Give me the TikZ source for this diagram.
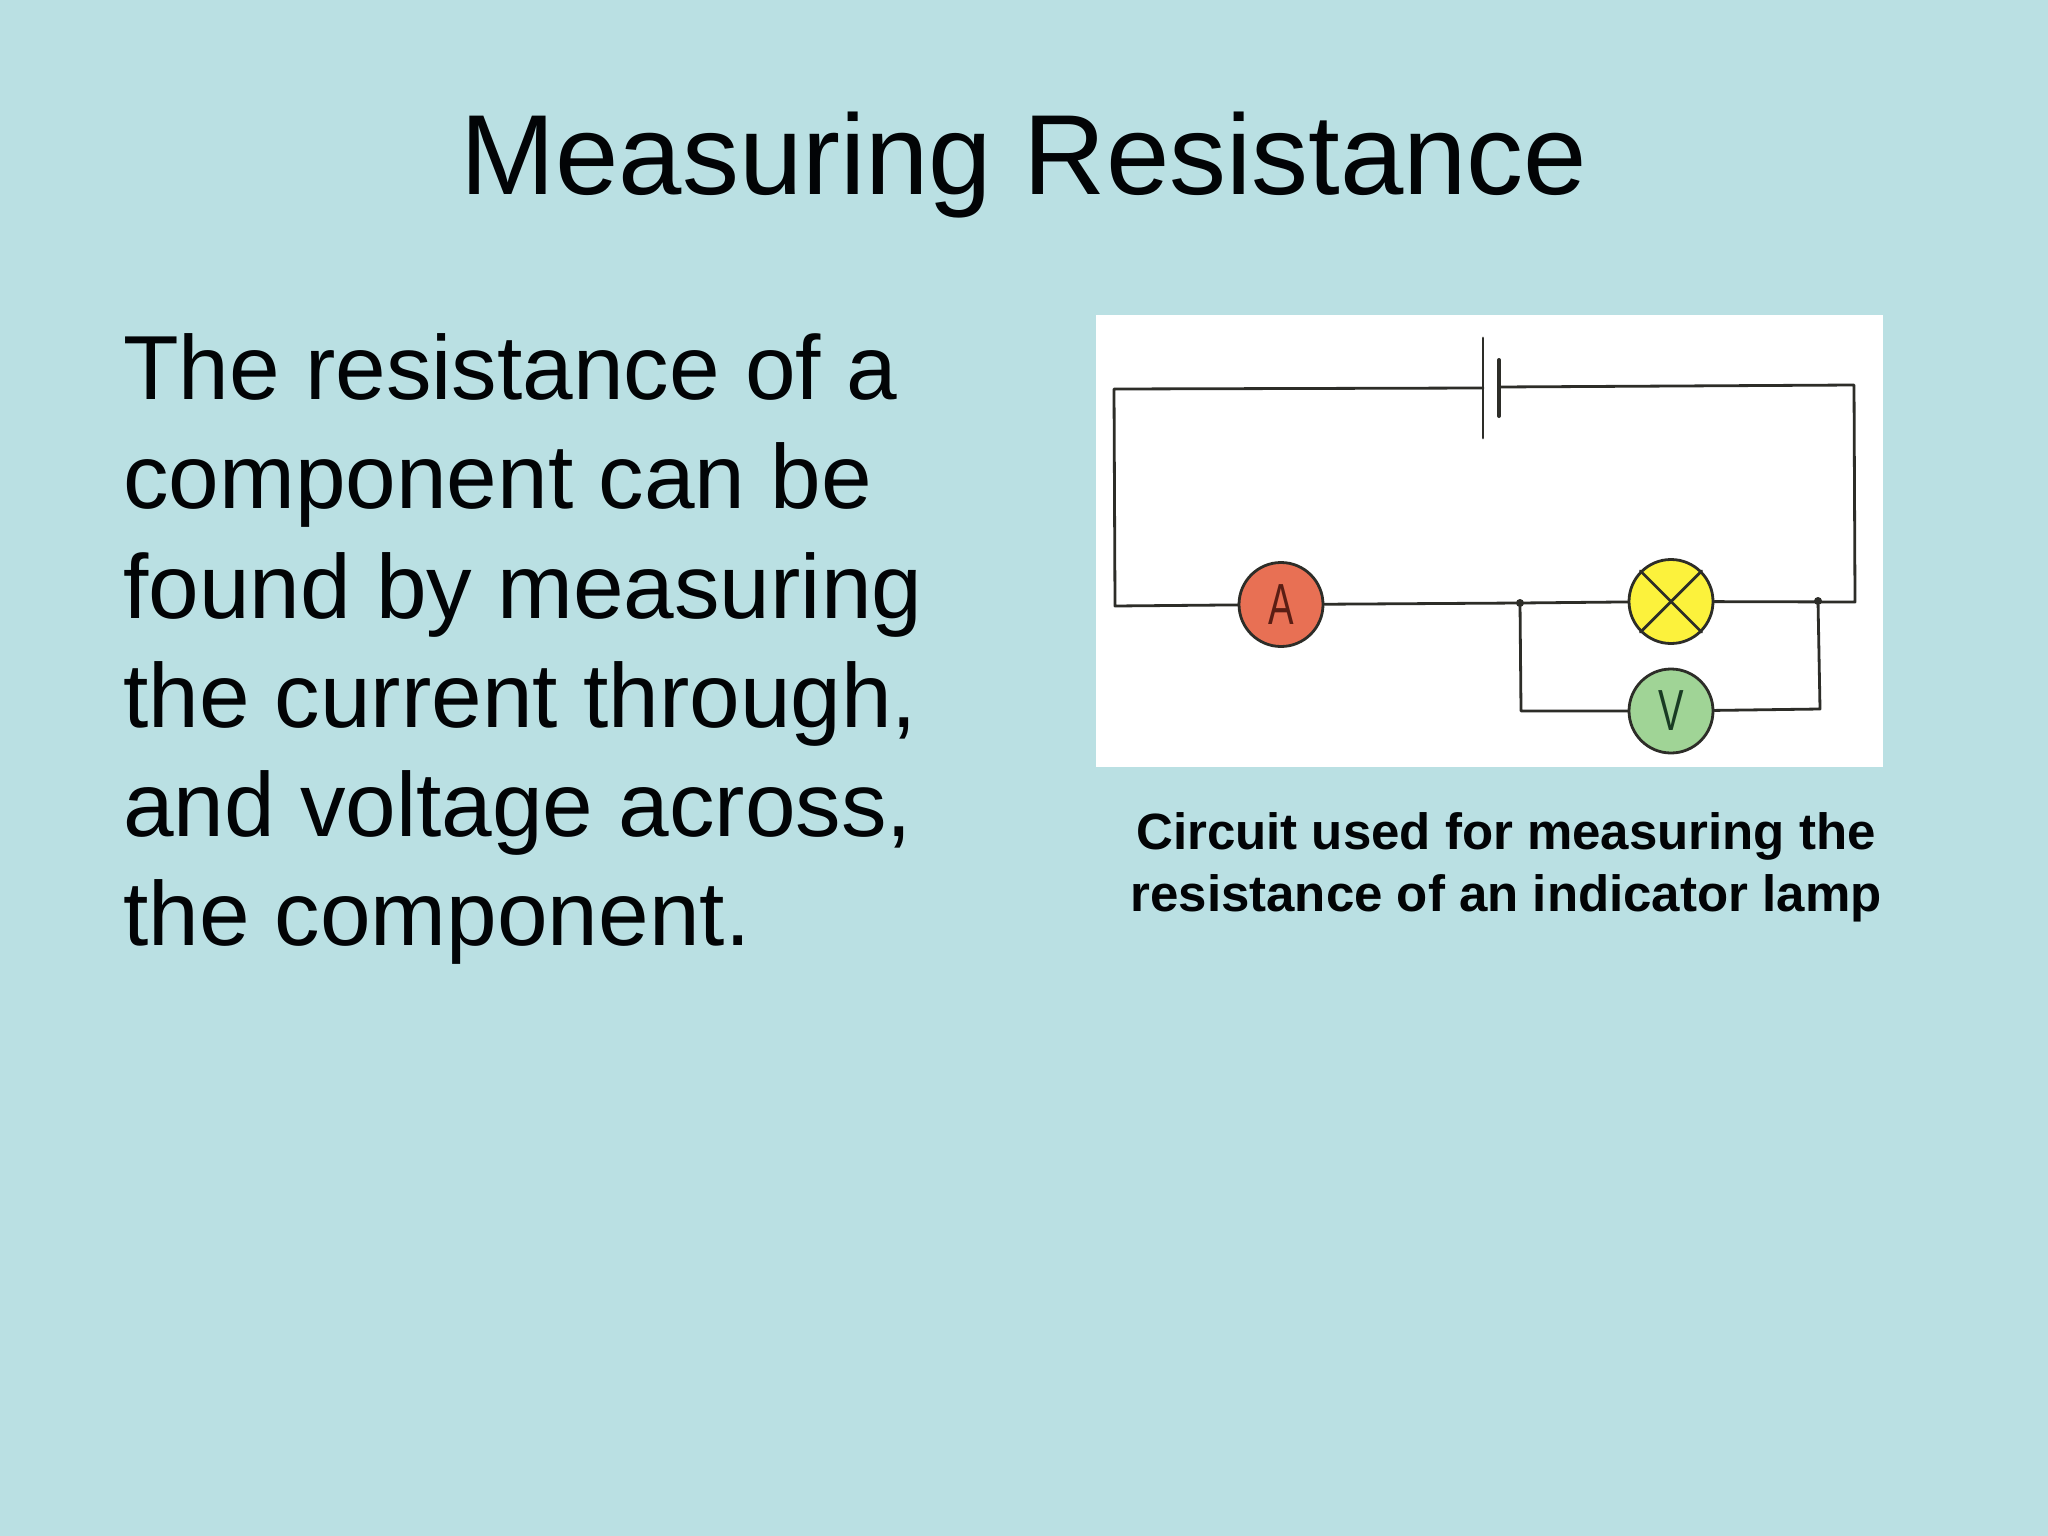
\documentclass[tikz,border=0pt]{standalone}
\usepackage{fontspec}
\usepackage{graphicx}
\setmainfont{Liberation Sans}
\definecolor{bgc}{RGB}{186,224,227}
\definecolor{inkc}{RGB}{2,4,6}
\definecolor{wirec}{RGB}{45,45,40}
\definecolor{ammc}{RGB}{232,112,84}
\definecolor{lampc}{RGB}{252,242,60}
\definecolor{voltc}{RGB}{160,212,150}
\definecolor{ammt}{RGB}{90,30,20}
\definecolor{voltt}{RGB}{25,60,35}
\begin{document}
\begin{tikzpicture}[x=1pt,y=-1pt,
 txt/.style={inner sep=0pt,text=inkc,anchor=base west},
 bodytxt/.style={txt,font=\fontsize{91}{91}\selectfont},
 captxt/.style={txt,font=\bfseries\fontsize{51}{51}\selectfont,anchor=base},
 wire/.style={draw=wirec,line width=2.8pt,line cap=round,line join=round},
 meter/.style={circle,draw=wirec,line width=2.8pt,minimum size=84pt,inner sep=0pt,font=\fontsize{58}{58}\selectfont},
 dot/.style={circle,fill=wirec,inner sep=0pt,minimum size=8pt}]
\useasboundingbox[fill=bgc] (0,0) rectangle (2048,1536);
\node[txt,font=\fontsize{113.9}{114}\selectfont,anchor=base] (title) at (1024,194.5) {Measuring Resistance};
\node[bodytxt] (l1) at (123,399) {The resistance of a};
\node[bodytxt] (l2) at (123,508.5) {component can be};
\node[bodytxt] (l3) at (123,618) {found by measuring};
\node[bodytxt] (l4) at (123,727) {the current through,};
\node[bodytxt] (l5) at (123,836) {and voltage across,};
\node[bodytxt] (l6) at (123,945.5) {the component.};
\fill[white] (1096,315) rectangle (1882.5,767);
\node[meter,fill=ammc,text=ammt] (A) at (1281,604.5) {\scalebox{0.66}[1]{A}};
\node[meter,fill=lampc] (L) at (1671,601.5) {};
\node[meter,fill=voltc,text=voltt] (V) at (1671,711) {\scalebox{0.66}[1]{V}};
\coordinate (b1) at (1483,388);
\coordinate (b2) at (1499,387);
\coordinate (tl) at (1114,389);
\coordinate (tr) at (1854,385);
\coordinate (bl) at (1115,606);
\coordinate (br) at (1855,602);
\coordinate (j1) at (1520,603);
\coordinate (j2) at (1818,601);
\coordinate (vl) at (1521,711);
\coordinate (vr) at (1820,709);
\coordinate (pa) at (1483,338);
\coordinate (pb) at (1483,438);
\coordinate (pc) at (1499,360);
\coordinate (pd) at (1499,416);
\draw[wire] (b1) -- (tl) -- (bl) -- (A);
\draw[wire] (b2) -- (tr) -- (br) -- (L);
\draw[wire] (A) -- (j1) -- (L);
\draw[wire] (j1) -- (vl) -- (V);
\draw[wire] (j2) -- (vr) -- (V);
\draw[wire] (pa) -- (pb);
\draw[wire,line width=4pt] (pc) -- (pd);
\draw[wire] (L.north west) -- (L.south east);
\draw[wire] (L.north east) -- (L.south west);
\node[dot] (d1) at (j1) {};
\node[dot] (d2) at (j2) {};
\node[captxt] (c1) at (1506,849) {Circuit used for measuring the};
\node[captxt] (c2) at (1506,911) {resistance of an indicator lamp};
\end{tikzpicture}
\end{document}
